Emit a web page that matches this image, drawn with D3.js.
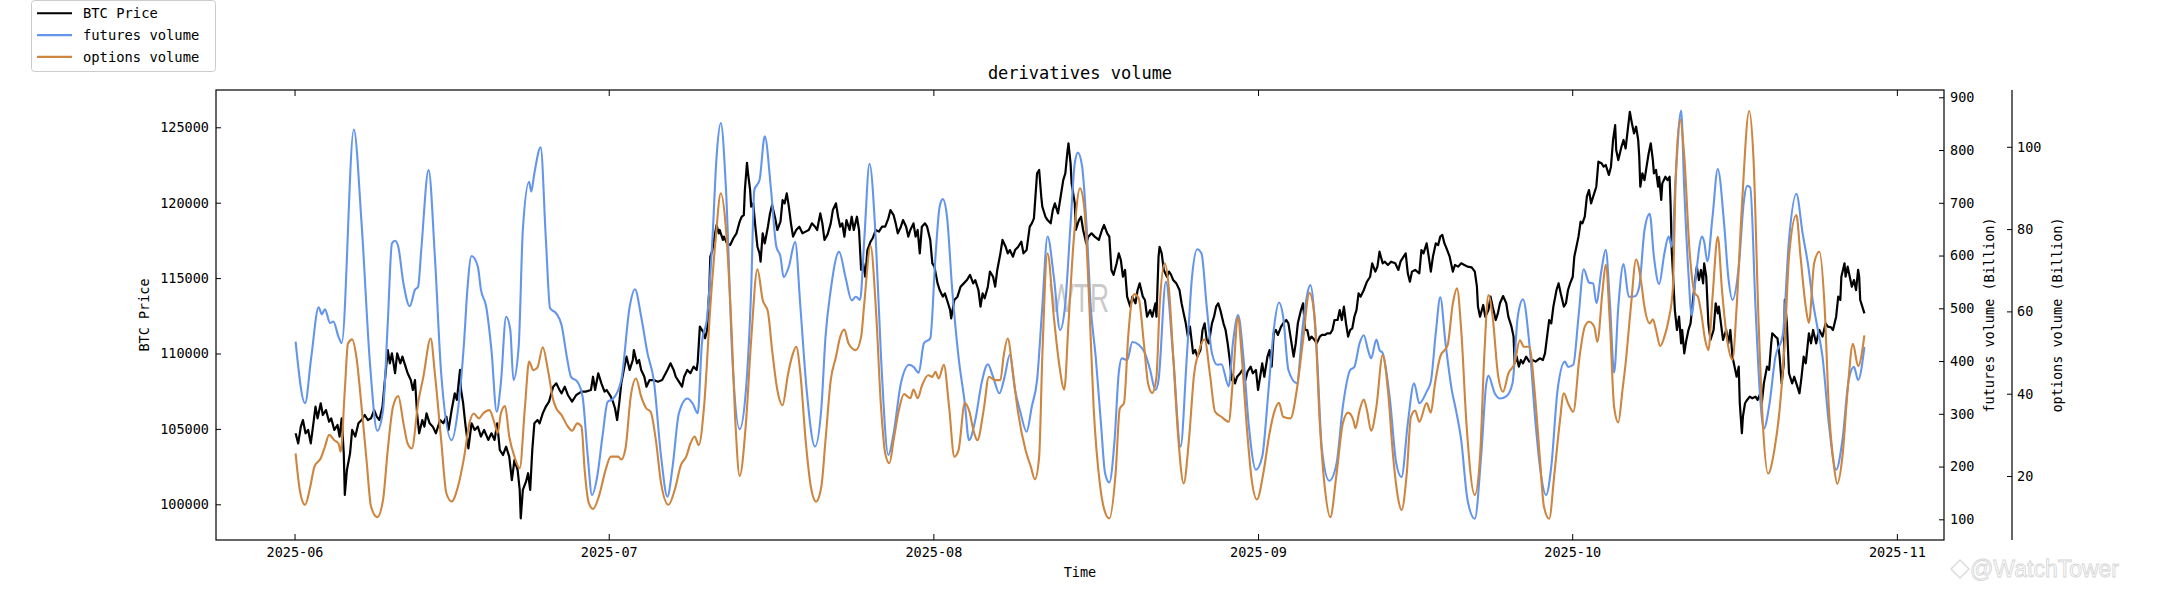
<!DOCTYPE html>
<html><head><meta charset="utf-8">
<script src="https://cdn.jsdelivr.net/npm/d3@7/dist/d3.min.js"></script>
<style>body{margin:0;background:#fff}svg{display:block}</style>
</head><body>
<script>
// ---------------- DATA ----------------
const startDate = "2025-06-01";
const btcDays = [0.1,0.35,0.6,0.8,1.05,1.3,1.55,1.8,2.0,2.2,2.5,2.7,3.0,3.3,3.5,3.8,4.1,4.3,4.5,4.7,4.8,5.0,5.3,5.5,5.8,6.1,6.4,6.7,7.0,7.3,7.6,7.85,8.1,8.4,8.6,8.9,9.1,9.3,9.6,9.8,10.1,10.3,10.6,10.8,11.1,11.3,11.5,11.7,11.9,12.2,12.4,12.6,12.9,13.2,13.5,13.9,14.2,14.5,14.7,15.0,15.3,15.5,15.8,15.9,16.1,16.3,16.6,16.9,17.2,17.5,17.8,18.1,18.5,18.8,19.1,19.35,19.6,19.9,20.2,20.5,20.75,21.0,21.3,21.5,21.6,21.8,22.1,22.3,22.5,22.7,22.9,23.2,23.4,23.7,24.0,24.3,24.7,25.0,25.3,25.5,25.8,26.1,26.5,26.9,27.4,27.8,28.3,28.5,28.7,29.0,29.3,29.6,29.8,30.2,30.4,30.6,30.8,31.0,31.2,31.5,31.7,32.0,32.3,32.4,32.7,32.9,33.1,33.4,33.6,33.9,34.3,34.7,35.1,35.6,35.9,36.2,36.4,36.7,37.0,37.2,37.5,37.8,38.1,38.4,38.5,38.7,39.0,39.2,39.4,39.5,39.6,39.7,39.9,40.1,40.3,40.5,40.6,40.9,41.0,41.3,41.6,41.9,42.2,42.5,42.7,42.9,43.0,43.2,43.3,43.5,43.6,43.8,44.0,44.2,44.4,44.5,44.7,44.9,45.2,45.4,45.6,45.9,46.1,46.4,46.6,46.8,47.0,47.2,47.4,47.6,47.9,48.2,48.5,48.8,49.1,49.4,49.7,49.9,50.2,50.4,50.6,50.9,51.2,51.4,51.7,51.9,52.1,52.3,52.5,52.7,53.0,53.2,53.4,53.7,53.9,54.1,54.3,54.5,54.7,55.0,55.2,55.5,55.8,56.1,56.4,56.7,56.9,57.2,57.4,57.6,57.9,58.1,58.4,58.6,58.8,59.1,59.3,59.5,59.7,59.9,60.2,60.4,60.7,60.9,61.1,61.4,61.6,61.9,62.1,62.4,62.6,62.7,63.0,63.3,63.6,63.9,64.2,64.5,64.8,65.0,65.3,65.5,65.7,65.9,66.2,66.4,66.7,66.9,67.1,67.4,67.6,67.9,68.1,68.3,68.6,68.8,69.1,69.4,69.6,69.9,70.2,70.4,70.6,70.9,71.1,71.3,71.4,71.7,71.9,72.2,72.4,72.6,72.9,73.1,73.4,73.6,73.8,73.9,74.1,74.2,74.5,74.6,74.9,75.1,75.3,75.6,75.8,76.1,76.4,76.8,77.1,77.3,77.6,77.8,78.0,78.2,78.5,78.7,78.9,79.1,79.3,79.5,79.8,80.0,80.3,80.5,80.7,81.0,81.2,81.4,81.7,81.9,82.2,82.3,82.5,82.6,82.8,83.0,83.3,83.5,83.7,83.9,84.2,84.5,84.7,84.9,85.1,85.3,85.5,85.8,86.0,86.2,86.5,86.7,86.9,87.1,87.3,87.6,87.8,88.0,88.2,88.4,88.7,88.9,89.1,89.3,89.5,89.6,89.8,90.0,90.3,90.5,90.8,91.0,91.3,91.5,91.8,92.0,92.2,92.4,92.6,92.9,93.1,93.3,93.5,93.7,93.9,94.2,94.4,94.7,94.9,95.1,95.4,95.6,95.8,96.1,96.3,96.5,96.7,96.9,97.1,97.4,97.6,97.9,98.1,98.4,98.6,98.9,99.1,99.3,99.6,99.8,100.0,100.2,100.4,100.6,100.8,101.0,101.2,101.4,101.6,101.8,102.1,102.4,102.7,102.9,103.2,103.4,103.6,103.9,104.1,104.4,104.7,105.1,105.4,105.6,105.9,106.1,106.3,106.5,106.7,107.0,107.2,107.4,107.6,107.8,108.1,108.3,108.5,108.7,108.97,109.2,109.4,109.6,109.8,110.0,110.3,110.6,110.8,111.1,111.4,111.7,112.0,112.4,112.7,112.9,113.0,113.2,113.5,113.7,114.0,114.2,114.4,114.7,114.9,115.1,115.4,115.7,115.9,116.2,116.4,116.5,116.7,116.9,117.1,117.3,117.6,117.9,118.2,118.5,118.9,119.2,119.4,119.6,119.8,120.0,120.2,120.5,120.7,120.9,121.2,121.4,121.6,121.8,122.05,122.2,122.4,122.6,122.8,122.97,123.2,123.4,123.6,123.8,124.0,124.3,124.5,124.8,125.0,125.2,125.5,125.7,125.9,126.1,126.2,126.4,126.7,126.9,127.1,127.3,127.5,127.7,127.9,128.1,128.3,128.4,128.5,128.7,128.9,129.1,129.3,129.5,129.7,129.8,130.0,130.2,130.3,130.5,130.6,130.9,131.1,131.3,131.4,131.5,131.7,131.8,132.0,132.2,132.4,132.5,132.7,132.9,133.1,133.3,133.5,133.7,133.9,134.1,134.3,134.5,134.6,134.8,135.0,135.2,135.5,135.7,135.9,136.0,136.2,136.4,136.7,136.9,137.1,137.3,137.5,137.7,137.9,138.0,138.2,138.3,138.5,138.7,138.95,139.2,139.5,139.7,139.9,140.1,140.3,140.6,140.8,141.0,141.1,141.4,141.6,141.8,142.0,142.2,142.3,142.5,142.7,143.0,143.2,143.4,143.7,143.9,144.1,144.3,144.5,144.6,144.8,145.0,145.3,145.5,145.6,145.9,146.2,146.4,146.7,146.9,147.2,147.4,147.6,147.7,148.0,148.1,148.3,148.5,148.7,148.9,149.1,149.3,149.4,149.5,149.7,149.9];
const btcPrice = [104710,104040,105150,105590,104710,104930,104040,105370,106480,105700,106700,105920,106250,105480,105700,104930,105260,104490,105700,103380,100620,102280,103380,104930,104490,105370,105590,105920,105590,105700,106250,105810,105590,106480,108020,110230,109350,110010,108690,110010,109350,109790,109130,108690,108240,107580,108240,106030,104710,105590,105150,106030,105370,105150,104710,105590,105370,105810,104930,106250,107360,106920,108910,107580,106700,105370,103710,105370,104930,105150,104490,104930,104270,104710,104270,105370,103600,103270,103820,103160,101610,102940,102280,100950,99070,100950,101500,102060,100950,103600,105370,105590,105370,106030,106480,106810,107800,108020,107580,107360,107800,107250,106810,107250,107470,107470,107580,108460,107580,108690,108020,107470,107580,107140,106810,106370,105590,106700,108020,109130,109790,108910,109570,110230,109350,109570,108910,108460,107800,108240,108240,108130,108240,108910,109350,108910,108460,108130,107800,108460,108910,108690,109130,108910,109460,111780,111450,111010,111560,113110,114210,116420,116860,117750,118520,117970,118190,117530,117750,117300,117190,117640,117970,118740,119070,119180,120840,122650,121950,120840,119740,119960,118410,117080,116640,116090,117970,117300,118410,119290,119850,118960,118190,118740,120180,119960,120620,119740,118630,117750,118190,118410,117970,118080,118190,118630,118410,118190,119290,118630,117530,117900,118630,119510,119960,119070,118410,118630,117750,118850,118190,119070,118190,119070,118190,115540,115980,115090,116860,117420,117640,118190,118080,118410,118410,118960,119510,119180,118630,117970,118410,118850,118410,117750,118190,118630,117750,118190,116640,118410,118630,118410,117530,115980,115760,114650,114210,113770,113990,113330,112880,112330,113550,113770,114430,114650,114870,115210,114650,114870,114210,113110,113990,113660,114430,115430,115090,114430,115540,116640,117530,117080,116640,116860,116420,116860,117080,117420,116640,116860,118410,118630,118960,121950,122170,120400,119740,119070,118850,118630,119510,119960,119290,120180,121500,121950,123380,123940,122610,121280,119960,118190,118850,119070,118190,117300,117750,117970,117750,117530,118190,118520,117970,117750,115540,115210,115980,116640,116200,115090,115540,113770,113110,113770,113330,114210,114650,113770,113550,112440,112880,112440,113330,112440,116420,117080,116640,115540,115090,115430,115210,114870,114650,114210,113330,112660,112000,111120,111780,110010,110230,109790,110230,111560,112000,110900,110670,112000,112440,113110,113330,112880,112000,111560,110670,109570,108240,108580,108020,108460,108690,108910,108240,108800,109130,108690,108910,107580,108460,109350,108460,109790,110230,109130,111340,111560,111230,111780,112000,112220,112000,111120,109790,110670,112000,112880,113330,111560,111560,110900,111120,110900,110670,111120,111230,111230,111340,111340,111560,112220,112220,112880,112220,113110,112000,111120,111560,111670,112440,112880,113990,113770,114210,114760,115090,115980,115430,115760,116750,115980,116090,115870,116090,115980,115540,116090,116420,116640,115320,114760,115430,115540,115430,115320,116860,116640,117300,116420,115430,116420,117300,117190,117750,117860,117300,116970,116420,115430,115870,115760,115980,115870,115760,115710,115430,114430,113110,112440,113220,112440,112880,113770,113110,112220,112660,113330,113810,113330,112440,111780,111120,109350,109790,109130,109570,109350,109790,109460,109570,109460,109680,109570,110010,111120,112220,112000,113110,114210,114650,113990,113110,113330,114210,114650,115090,116420,117080,117750,118740,118630,119070,120400,120840,119960,120400,121060,122720,122610,122390,122500,121840,122390,124160,125150,123490,122830,123710,124160,123600,124820,126030,125260,124600,125040,124160,123050,121060,121950,121500,122390,123270,123940,122830,121950,122170,121060,121720,120180,121280,121720,121500,121720,119740,116860,114210,112880,111560,112440,110670,111560,110010,110900,111560,112000,113330,114650,115760,114870,115540,114650,115980,115090,112000,110900,111560,113330,112660,113110,112000,110900,111560,110670,111560,109790,109130,108460,109130,106700,104710,105810,106700,106920,107140,107030,107140,106920,107250,106700,108020,109130,108910,110670,111340,111120,111010,109790,108020,109350,113550,112000,108690,108020,108460,108020,107360,108460,109790,109350,110670,111340,110670,111560,110670,111340,111560,111120,112000,111780,111740,111560,112440,113770,113550,115090,115980,115090,115760,115090,114430,114870,114210,115540,115090,113550,113110,112660];

const futDays = [0.1,1.0,1.6,2.3,2.6,2.9,3.4,3.7,4.2,4.5,5.66,6.4,7.2,7.9,8.45,8.9,9.3,9.6,9.9,10.4,11.0,11.5,11.8,12.1,12.8,13.4,14.0,15.0,15.6,16.2,16.5,16.9,17.5,17.8,18.3,18.8,19.3,19.7,20.2,20.6,20.9,21.4,21.8,22.4,22.6,22.9,23.5,24.0,24.4,25.0,25.5,26.0,26.4,27.0,27.5,28.0,28.4,28.9,29.4,29.9,30.4,31.2,32.0,32.5,33.1,33.7,34.3,35.0,35.6,36.1,36.7,37.5,38.0,38.5,38.9,39.4,39.9,40.3,40.7,41.2,41.8,42.5,43.1,43.6,43.9,44.4,44.9,45.5,46.0,46.4,46.7,47.2,47.8,48.3,48.9,49.7,50.3,50.7,51.2,52.0,52.6,53.2,53.6,54.0,54.4,54.9,55.5,56.0,56.7,57.2,57.9,58.7,59.1,59.6,60.1,60.7,61.2,61.6,61.9,62.3,62.8,63.4,64.0,64.4,65.0,65.6,66.2,66.7,67.3,67.8,68.3,68.8,69.3,69.9,70.4,70.9,71.4,71.9,72.5,73.1,73.6,74.1,74.5,74.8,75.2,75.7,76.0,76.5,77.0,77.4,77.8,78.3,78.7,79.0,79.5,80.0,80.6,81.2,81.7,82.2,82.5,83.2,83.9,84.6,85.2,85.7,86.2,86.6,87.1,87.6,88.1,88.5,89.2,89.6,90.1,90.6,91.1,91.8,92.4,93.0,93.5,94.0,94.4,94.9,95.7,96.3,97.0,97.6,98.1,98.8,99.5,100.1,100.8,101.2,101.7,102.1,102.5,102.8,103.3,103.6,103.9,104.6,105.2,105.7,106.3,106.9,107.4,108.1,108.5,109.0,109.4,109.9,110.5,110.9,111.4,112.0,112.7,113.3,113.8,114.0,114.6,115.1,115.7,116.3,116.8,117.3,117.9,118.5,119.0,119.5,120.0,120.6,121.3,121.6,122.1,122.6,123.1,123.6,124.0,124.3,124.8,125.2,125.6,126.0,126.4,126.9,127.4,128.0,128.4,128.9,129.4,129.8,130.3,130.8,131.2,131.5,131.9,132.4,132.7,133.1,133.4,133.8,134.4,134.6,134.9,135.4,135.9,136.5,136.9,137.3,137.9,138.4,138.7,139.0,139.5,139.9,140.3,140.8,141.4,142.1,142.7,143.4,144.0,144.5,145.0,145.4,145.9,146.5,147.2,147.8,148.4,148.9,149.3,149.9];
const futVolume = [437,320,408,502,489,498,472,475,446,434,839,661,396,268,307,472,623,628,617,547,504,535,541,611,762,598,377,250,307,440,535,599,579,535,503,421,304,358,484,459,364,427,649,740,721,756,805,630,500,490,468,408,370,361,333,219,146,181,257,323,328,364,503,536,484,415,364,219,143,200,301,329,320,301,434,484,630,788,851,724,408,271,345,535,724,743,826,724,617,598,559,579,626,503,345,238,310,446,535,607,560,515,522,516,630,774,630,408,222,263,358,393,389,378,434,443,598,693,707,674,535,408,320,250,288,358,394,370,339,370,412,345,304,266,314,364,503,636,560,459,510,661,775,795,769,630,510,408,282,187,170,250,377,405,402,436,431,415,383,345,364,550,408,238,408,560,612,604,503,415,393,394,352,434,487,408,282,194,219,345,459,511,484,383,358,472,544,421,232,173,206,314,383,389,434,449,421,405,441,421,415,326,206,180,282,358,320,342,361,459,521,434,345,307,250,137,101,219,358,372,339,329,333,358,484,517,434,282,187,146,200,345,399,389,393,484,574,549,547,510,573,611,510,378,503,584,522,523,541,648,679,598,546,604,636,617,756,875,724,566,487,560,636,626,589,674,764,661,560,516,579,705,732,729,503,345,272,314,408,449,630,717,642,585,510,465,408,282,194,250,364,389,364,427];

const optDays = [0.1,0.5,1.0,1.5,1.9,2.5,2.9,3.3,3.8,4.2,4.4,4.8,5.1,5.5,5.9,6.4,6.9,7.3,7.9,8.45,8.9,9.4,9.9,10.4,10.8,11.2,11.8,12.3,13.0,13.4,14.0,14.5,15.0,15.6,16.2,16.7,17.1,17.6,18.0,18.6,19.1,19.4,19.7,20.1,20.5,21.0,21.5,22.0,22.4,22.8,23.2,23.7,24.2,24.7,25.0,25.5,26.0,26.5,27.0,27.4,27.7,28.1,28.5,29.1,29.7,30.2,30.9,31.2,31.6,32.1,32.6,33.1,33.6,34.0,34.5,35.0,35.7,36.3,36.9,37.4,37.8,38.2,38.6,39.1,39.7,40.2,40.7,41.2,41.7,42.1,42.5,43.1,43.6,44.2,44.7,45.2,45.6,46.1,46.6,47.1,47.5,47.9,48.3,48.8,49.3,49.8,50.3,50.7,51.2,51.7,52.1,52.5,52.9,53.6,54.1,54.4,55.0,55.5,56.0,56.4,56.8,57.2,57.7,58.2,58.8,59.1,59.5,59.9,60.5,60.9,61.2,61.5,62.0,62.5,63.0,63.4,64.0,64.4,64.9,65.2,65.8,66.3,66.9,67.4,67.7,68.1,68.6,69.1,69.8,70.3,70.7,71.1,71.4,71.9,72.5,73.0,73.5,73.9,74.4,75.0,75.4,75.9,76.3,76.9,77.3,77.8,78.4,78.8,79.2,79.6,79.9,80.2,80.6,81.1,81.5,81.9,82.3,82.6,83.1,83.5,83.9,84.4,84.9,85.4,85.9,86.3,86.9,87.4,87.9,88.5,89.2,89.6,90.1,90.4,90.9,91.4,91.9,92.5,93.1,93.6,94.0,94.4,95.1,95.7,96.3,96.9,97.4,97.9,98.4,98.9,99.5,100.1,100.6,101.1,101.3,101.7,102.1,102.4,102.8,103.3,103.9,104.4,104.9,105.4,105.7,106.2,106.6,107.0,107.4,108.1,108.5,108.9,109.4,110.1,110.6,111.0,111.4,111.9,112.7,113.2,113.6,114.0,114.4,114.9,115.4,115.9,116.5,117.0,117.4,117.9,118.4,118.9,119.3,119.8,120.3,120.8,121.2,121.6,122.1,122.7,123.2,123.6,124.1,124.4,124.9,125.2,125.6,126.0,126.4,126.8,127.1,127.6,128.1,128.6,128.9,129.4,129.7,130.0,130.4,130.8,131.2,131.6,131.9,132.3,132.7,133.2,133.7,134.0,134.3,134.7,135.0,135.4,135.9,136.3,136.8,137.3,137.7,138.2,138.9,139.3,139.8,140.2,140.7,141.3,141.8,142.3,142.7,143.4,143.8,144.3,144.6,145.1,145.6,146.1,146.5,147.0,147.3,147.8,148.3,148.8,149.3,149.9];
const optVolume = [25.5,16.6,13.0,17.4,22.3,24.3,27.1,30.0,28.7,27.9,25.9,40.9,52.2,53.2,49.0,36.8,23.1,12.6,10.0,14.2,26.3,36.8,39.4,32.8,27.9,26.7,37.7,44.1,53.4,44.9,28.7,15.8,13.8,17.4,24.7,32.8,35.2,34.0,35.2,36.0,32.8,30.4,35.2,37.0,29.6,24.7,21.9,36.8,47.8,45.7,46.4,51.3,45.7,38.5,36.4,34.8,32.4,31.0,32.8,32.0,21.5,13.4,12.0,15.4,21.5,24.7,24.7,24.0,26.7,39.3,43.7,39.3,36.4,35.6,28.7,18.2,13.0,16.6,22.7,24.7,27.9,29.6,27.5,36.8,61.1,77.3,88.7,79.8,57.1,32.8,20.0,32.8,53.0,70.2,62.8,59.9,50.6,40.9,37.2,44.5,49.0,51.4,44.9,28.7,17.4,13.8,17.4,28.7,43.3,49.0,53.8,55.6,52.2,50.6,53.8,61.9,75.9,61.1,36.8,25.5,23.1,28.7,36.0,39.9,38.9,41.0,38.9,41.9,44.5,44.1,45.3,43.7,47.0,36.8,24.7,26.3,37.7,36.0,30.4,28.7,36.0,44.1,43.3,43.3,49.0,53.4,44.9,35.2,26.3,22.3,19.2,24.7,49.0,74.1,58.7,47.4,41.0,57.1,77.3,89.9,85.4,61.1,36.8,18.0,12.0,9.7,20.6,36.4,37.7,53.8,61.9,64.2,63.2,52.2,42.5,40.2,44.1,61.1,71.7,65.2,49.0,28.7,18.2,28.7,44.9,49.8,53.2,44.9,35.6,34.4,33.2,43.3,58.7,50.6,32.8,19.0,14.3,20.6,30.4,36.0,37.8,34.4,34.0,40.9,53.0,64.5,58.7,32.8,16.6,10.0,20.6,32.8,35.4,33.6,31.6,36.0,38.6,36.0,31.0,36.8,49.4,40.9,24.7,14.2,11.7,20.6,34.4,35.9,33.2,37.7,35.4,42.5,49.0,51.8,61.9,65.6,55.5,32.8,15.4,24.7,49.0,64.0,58.7,44.9,40.5,44.9,47.4,53.0,51.4,51.4,40.9,24.7,12.6,9.6,20.6,32.8,40.1,37.7,35.6,49.0,56.3,57.5,56.3,52.6,65.2,71.3,57.1,36.8,33.0,40.9,47.4,61.1,72.6,66.8,61.1,57.1,58.1,55.5,51.6,53.8,57.9,65.2,93.5,106.6,97.6,74.9,64.4,63.6,59.9,53.0,50.6,63.6,78.1,65.2,53.0,48.2,61.1,85.4,108.7,97.6,57.1,32.8,20.6,26.3,36.0,53.0,73.3,83.4,73.3,61.1,57.2,71.7,74.5,61.1,36.8,22.3,18.1,24.7,40.9,52.1,46.7,54.2];

const btcTicks = [100000,105000,110000,115000,120000,125000];
const futTicks = [100,200,300,400,500,600,700,800,900];
const optTicks = [20,40,60,80,100];
const btcRange = [97633,127473];
const futRange = [60.8,913.8];
const optRange = [4.45,113.8];
const seriesNames = ["BTC Price","futures volume","options volume"];
const seriesColors = ["#000000","#6495ED","#CD853F"];

// ---------------- CHART ----------------
const W = 2160, H = 600;
const L = 216, R = 1944, T = 90, B = 540;
const FONT = "'DejaVu Sans Mono', monospace";
const DAY = 86400000;
const t0 = new Date(startDate + "T00:00:00Z").getTime();
const toDate = d => new Date(t0 + d * DAY);

const svg = d3.select("body").append("svg").attr("width", W).attr("height", H)
  .style("font-family", FONT);

const lastDay = 150, pad = (lastDay - 0) * 0.05;
const x = d3.scaleUtc().domain([toDate(-pad), toDate(lastDay + pad)]).range([L, R]);
const yB = d3.scaleLinear().domain(btcRange).range([B, T]);
const yF = d3.scaleLinear().domain(futRange).range([B, T]);
const yO = d3.scaleLinear().domain(optRange).range([B, T]);

svg.append("defs").append("clipPath").attr("id", "clip")
  .append("rect").attr("x", L).attr("y", T).attr("width", R - L).attr("height", B - T);

// watermark
svg.append("text").attr("x", 1079).attr("y", 312).attr("text-anchor", "middle")
  .attr("font-family", "'Liberation Sans', sans-serif").attr("font-size", 40)
  .attr("textLength", 60).attr("lengthAdjust", "spacingAndGlyphs")
  .attr("fill", "#b5b5b5").attr("opacity", 0.7).text("WTR");

const g = svg.append("g").attr("clip-path", "url(#clip)");

const btcData = btcDays.map((d, i) => [toDate(d), btcPrice[i]]);
const futData = futDays.map((d, i) => [toDate(d), futVolume[i]]);
const optData = optDays.map((d, i) => [toDate(d), optVolume[i]]);

g.append("path").datum(btcData).attr("fill", "none").attr("stroke", seriesColors[0])
  .attr("stroke-width", 2.2).attr("stroke-linejoin", "round")
  .attr("d", d3.line().x(d => x(d[0])).y(d => yB(d[1])));
g.append("path").datum(futData).attr("fill", "none").attr("stroke", seriesColors[1])
  .attr("stroke-width", 2.1)
  .attr("d", d3.line().curve(d3.curveMonotoneX).x(d => x(d[0])).y(d => yF(d[1])));
g.append("path").datum(optData).attr("fill", "none").attr("stroke", seriesColors[2])
  .attr("stroke-width", 2.1)
  .attr("d", d3.line().curve(d3.curveMonotoneX).x(d => x(d[0])).y(d => yO(d[1])));

// axes
const fs = "13.5px";
function style(sel) {
  sel.select(".domain").remove();
  sel.selectAll(".tick line").attr("stroke", "#000").attr("stroke-width", 1);
  sel.selectAll(".tick text").attr("font-family", FONT).attr("font-size", fs).attr("fill", "#000");
}
const intFmt = d3.format("d");
const months = d3.utcMonth.range(new Date(Date.UTC(2025, 5, 1)), new Date(Date.UTC(2025, 10, 2)));
svg.append("g").attr("transform", `translate(0,${B})`)
  .call(d3.axisBottom(x).tickValues(months).tickFormat(d3.utcFormat("%Y-%m")).tickSize(-6).tickPadding(7))
  .call(style);
svg.append("g").attr("transform", `translate(0,${T})`)
  .call(d3.axisTop(x).tickValues(months).tickFormat("").tickSize(-6))
  .call(style);
svg.append("g").attr("transform", `translate(${L},0)`)
  .call(d3.axisLeft(yB).tickValues(btcTicks).tickFormat(intFmt).tickSize(-5).tickPadding(7))
  .call(style);
svg.append("g").attr("transform", `translate(${R},0)`)
  .call(d3.axisRight(yF).tickValues(futTicks).tickFormat(intFmt).tickSize(-5).tickPadding(6))
  .call(style);
svg.append("g").attr("transform", `translate(2012,0)`)
  .call(d3.axisRight(yO).tickValues(optTicks).tickFormat(intFmt).tickSize(-5).tickPadding(5))
  .call(style);
svg.append("line").attr("x1", 2012).attr("x2", 2012).attr("y1", T).attr("y2", B)
  .attr("stroke", "#000").attr("stroke-width", 1.2);

// frame
svg.append("rect").attr("x", L).attr("y", T).attr("width", R - L).attr("height", B - T)
  .attr("fill", "none").attr("stroke", "#000").attr("stroke-width", 1.2);

// labels
svg.append("text").attr("x", (L + R) / 2).attr("y", 79).attr("text-anchor", "middle")
  .attr("font-size", "17px").attr("fill", "#000").text("derivatives volume");
svg.append("text").attr("x", (L + R) / 2).attr("y", 572).attr("text-anchor", "middle")
  .attr("dominant-baseline", "central").attr("font-size", fs).attr("fill", "#000").text("Time");
function vlabel(xc, txt) {
  svg.append("text").attr("transform", `translate(${xc},${(T + B) / 2}) rotate(-90)`)
    .attr("text-anchor", "middle").attr("dominant-baseline", "central")
    .attr("font-size", fs).attr("fill", "#000").text(txt);
}
vlabel(144, "BTC Price");
vlabel(1989, "futures volume (Billion)");
vlabel(2057, "options volume (Billion)");

// legend
const lg = svg.append("g");
lg.append("rect").attr("x", 31.5).attr("y", 0.5).attr("width", 184).attr("height", 71)
  .attr("rx", 3).attr("fill", "#fff").attr("fill-opacity", 0.8)
  .attr("stroke", "#cccccc").attr("stroke-width", 1);
seriesNames.forEach((n, i) => {
  const yy = 13.3 + i * 21.8;
  lg.append("line").attr("x1", 37).attr("x2", 72).attr("y1", yy).attr("y2", yy)
    .attr("stroke", seriesColors[i]).attr("stroke-width", 2.1);
  lg.append("text").attr("x", 83).attr("y", yy).attr("dominant-baseline", "central")
    .attr("font-size", "13.8px").attr("fill", "#000").text(n);
});

// corner watermark
const wm = svg.append("g").attr("opacity", 0.5);
wm.append("path").attr("d", "M1960,560 L1969,569 L1960,578 L1951,569 Z")
  .attr("fill", "none").attr("stroke", "#bbb").attr("stroke-width", 1.5);
wm.append("text").attr("x", 1970).attr("y", 577).attr("font-family", "'Liberation Sans', sans-serif")
  .attr("font-size", 23).attr("fill", "#fff").attr("stroke", "#aaa").attr("stroke-width", 0.8)
  .text("@WatchTower");
</script>
</body></html>
